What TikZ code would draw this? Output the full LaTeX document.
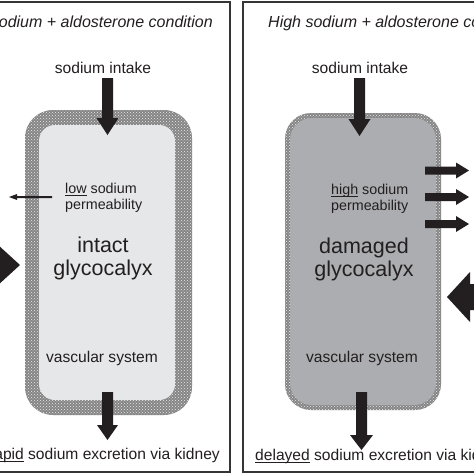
\documentclass[tikz,border=0pt]{standalone}
\usepackage{fontspec}
\setmainfont{Liberation Sans}
\usetikzlibrary{patterns}
\definecolor{ink}{HTML}{231F20}
\definecolor{lightfill}{HTML}{E6E7E8}
\definecolor{darkfill}{HTML}{ABADB0}
\definecolor{framec}{HTML}{353535}
\definecolor{stipbase}{HTML}{858585}
\newcommand\myul[1]{\setbox0\hbox{#1}\rlap{\rule[-2.3pt]{\wd0}{0.8pt}}\box0\relax}
% downward block arrow: cx, y0, ytip, shaft half, head half, head length
\newcommand\myDown[6]{%
  \fill[ink] ({#1-#4},#2) -- ({#1+#4},#2) -- ({#1+#4},{#3-#6}) -- ({#1+#5},{#3-#6})
    -- (#1,#3) -- ({#1-#5},{#3-#6}) -- ({#1-#4},{#3-#6}) -- cycle;}
% horizontal block arrow: cy, x0, xtip, shaft half, head half, signed head length
\newcommand\myHoriz[6]{%
  \fill[ink] (#2,{#1-#4}) -- (#2,{#1+#4}) -- ({#3-#6},{#1+#4}) -- ({#3-#6},{#1+#5})
    -- (#3,#1) -- ({#3-#6},{#1-#5}) -- ({#3-#6},{#1-#4}) -- cycle;}
\tikzset{
  frame/.style={draw=framec, line width=2pt},
  stipple/.style={fill=stipbase, postaction={pattern=crosshatch dots, pattern color=white!85!gray}},
  lbl/.style={text=ink, inner sep=0pt, font=\fontsize{15.6}{18}\selectfont},
  ttl/.style={text=ink, inner sep=0pt, font=\fontsize{16}{19}\selectfont\itshape},
  perm/.style={text=ink, inner sep=0pt, font=\fontsize{14.3}{16}\selectfont},
  big/.style={text=ink, inner sep=0pt, font=\fontsize{21.5}{24}\selectfont},
}
\begin{document}
\begin{tikzpicture}[x=1pt,y=-1pt]
\useasboundingbox (0,0) rectangle (474,474);
\clip (0,0) rectangle (474,474);
\fill[white] (0,0) rectangle (474,474);
% panels
\draw[frame] (-14,2) rectangle (230,472);
\draw[frame] (243,2) rectangle (490,472);
% left vessel
\fill[stipple, rounded corners=28pt] (25,110) rectangle (192,415);
\fill[lightfill, rounded corners=16pt] (39,125) rectangle (175,400);
% right vessel
\fill[stipple, rounded corners=26pt] (285,113) rectangle (441,410);
\fill[darkfill, rounded corners=22pt] (290,118) rectangle (436,405);
% titles
\node[ttl, anchor=base east] (tl) at (213,27) {Low sodium + aldosterone condition};
\node[ttl, anchor=base west] (tr) at (268,27) {High sodium + aldosterone condition};
% sodium intake
\node[lbl, anchor=base] (il) at (103,73) {sodium intake};
\node[lbl, anchor=base] (ir) at (360,73) {sodium intake};
% permeability
\node[perm, anchor=base west] (pl1) at (65,193) {\myul{low} sodium};
\node[perm, anchor=base west] (pl2) at (65,209) {permeability};
\node[perm, anchor=base west] (pr1) at (331,194) {\myul{high} sodium};
\node[perm, anchor=base west] (pr2) at (331,210) {permeability};
% glycocalyx
\node[big, anchor=base] (gl1) at (103,252) {intact};
\node[big, anchor=base] (gl2) at (103,275) {glycocalyx};
\node[big, anchor=base] (gr1) at (364,253) {damaged};
\node[big, anchor=base] (gr2) at (364,276) {glycocalyx};
% vascular system
\node[lbl, anchor=base] (vl) at (102,362) {vascular system};
\node[lbl, anchor=base] (vr) at (362,362) {vascular system};
% excretion
\node[lbl, anchor=base east] (el) at (220,459) {\myul{rapid} sodium excretion via kidney};
\node[lbl, anchor=base west] (er) at (255,460) {\myul{delayed} sodium excretion via kidney};
% arrows
\myDown{107.5}{78}{135}{5.5}{11}{17}
\myDown{359.5}{78}{136}{5.5}{11}{17}
\myDown{107.5}{392}{440}{5.5}{10.5}{15}
\myDown{361.5}{392}{450}{5.5}{11.5}{15}
\myHoriz{197}{52}{9}{1}{3}{-8}
\myHoriz{170.5}{425}{469}{4}{8}{13}
\myHoriz{197}{425}{469}{4}{8}{13}
\myHoriz{224}{425}{469}{4}{8}{13}
\myHoriz{297}{500}{447}{13}{25}{-23}
\myHoriz{265}{-20}{20}{11}{21}{23}
\end{tikzpicture}
\end{document}
